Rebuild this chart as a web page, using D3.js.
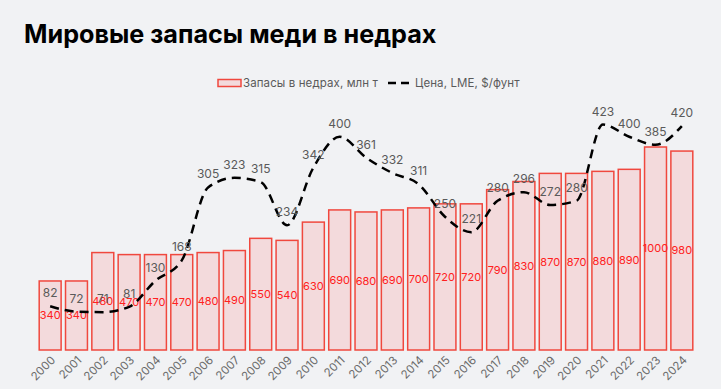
<!DOCTYPE html>
<html>
<head>
<meta charset="utf-8">
<script src="https://cdn.jsdelivr.net/npm/d3@7"></script>
<style>
    body { margin: 0; background: #f1f2f4; }
    svg { display: block; font-family: Inter, 'Noto Sans', sans-serif; }
</style>
</head>
<body>
<svg id="chart" width="721" height="389"></svg>
<script>
const years = ['2000', '2001', '2002', '2003', '2004', '2005', '2006', '2007', '2008', '2009',
    '2010', '2011', '2012', '2013', '2014', '2015', '2016', '2017', '2018', '2019',
    '2020', '2021', '2022', '2023', '2024'];
const reserves = [340, 340, 480, 470, 470, 470, 480, 490, 550, 540,
    630, 690, 680, 690, 700, 720, 720, 790, 830, 870,
    870, 880, 890, 1000, 980];
const price = [82, 72, 71, 81, 130, 168, 305, 323, 315, 234,
    342, 400, 361, 332, 311, 250, 221, 280, 296, 272,
    280, 423, 400, 385, 420];

const svg = d3.select('#chart');

const params = {
    baseline: 350,
    barColor: '#f3dadc',
    barStroke: '#f0483e',
    labelRed: '#ff2020',
    labelGrey: '#5a5a5a'
};

const x = d3.scaleBand()
    .domain(years)
    .range([37, 695])
    .paddingInner(0.11)
    .paddingOuter(0.055);

const yBars = d3.scaleLinear()
    .domain([0, 1000])
    .range([params.baseline, 147]);

const yPrice = d3.scaleLinear()
    .domain([0, 423])
    .range([params.baseline, 124.5]);

// title
svg.append('text')
    .attr('x', 24)
    .attr('y', 43)
    .attr('font-size', 25.2)
    .attr('font-weight', 700)
    .attr('fill', '#000')
    .text('Мировые запасы меди в недрах');

// legend
const legend = svg.append('g')
    .attr('font-size', 11.5)
    .attr('fill', params.labelGrey)
    .style('letter-spacing', '0.1px');
legend.append('rect')
    .attr('x', 218).attr('y', 79.5)
    .attr('width', 23).attr('height', 7)
    .attr('fill', params.barColor)
    .attr('stroke', params.barStroke)
    .attr('stroke-width', 1.5);
legend.append('text').attr('x', 243).attr('y', 87).text('Запасы в недрах, млн т');
legend.append('line')
    .attr('x1', 388).attr('x2', 413)
    .attr('y1', 83).attr('y2', 83)
    .attr('stroke', '#000')
    .attr('stroke-width', 2.5)
    .attr('stroke-dasharray', '8,5');
legend.append('text').attr('x', 415).attr('y', 87).text('Цена, LME, $/фунт');

// bars
svg.append('g')
    .selectAll('rect')
    .data(years)
    .join('rect')
    .attr('x', d => x(d) + 0.75)
    .attr('y', (d, i) => yBars(reserves[i]))
    .attr('width', x.bandwidth() - 1.5)
    .attr('height', (d, i) => params.baseline - yBars(reserves[i]))
    .attr('fill', params.barColor)
    .attr('stroke', params.barStroke)
    .attr('stroke-width', 1.5);

// bar values
svg.append('g')
    .attr('font-size', 11)
    .attr('fill', params.labelRed)
    .attr('text-anchor', 'middle')
    .selectAll('text')
    .data(years)
    .join('text')
    .attr('x', d => x(d) + x.bandwidth() / 2)
    .attr('y', (d, i) => (yBars(reserves[i]) + params.baseline) / 2)
    .attr('dy', '0.36em')
    .text((d, i) => reserves[i]);

// price line
const line = d3.line()
    .x((d, i) => x(years[i]) + x.bandwidth() / 2)
    .y(d => yPrice(d))
    .curve(d3.curveMonotoneX);

svg.append('path')
    .datum(price)
    .attr('d', line)
    .attr('fill', 'none')
    .attr('stroke', '#000')
    .attr('stroke-width', 2.5)
    .attr('stroke-dasharray', '9,6');

svg.append('g')
    .attr('font-size', 12)
    .attr('fill', params.labelGrey)
    .attr('text-anchor', 'middle')
    .selectAll('text')
    .data(price)
    .join('text')
    .attr('x', (d, i) => x(years[i]) + x.bandwidth() / 2)
    .attr('y', d => yPrice(d) - 9)
    .text(d => d);

// x axis
const xAxis = svg.append('g')
    .attr('transform', `translate(0,${params.baseline + 8})`)
    .call(d3.axisBottom(x).tickSize(0).tickPadding(0));
xAxis.select('.domain').remove();
xAxis.selectAll('text')
    .attr('font-family', 'Inter, sans-serif')
    .attr('font-size', 11.5)
    .attr('fill', '#6a6a6a')
    .attr('text-anchor', 'end')
    .attr('dy', '0.35em')
    .attr('transform', 'translate(3,0) rotate(-45)');
</script>
</body>
</html>
